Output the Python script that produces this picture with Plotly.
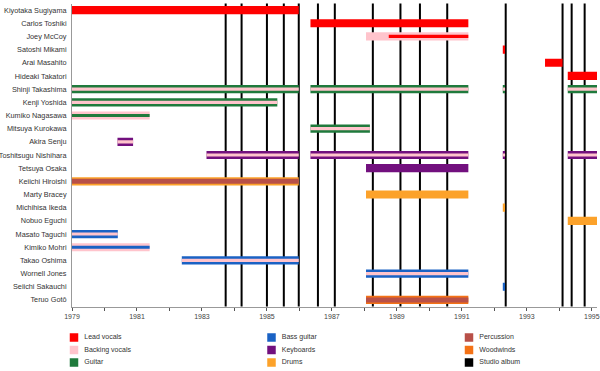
import plotly.graph_objects as go

# ---------------- data ----------------
members = ["Kiyotaka Sugiyama", "Carlos Toshiki", "Joey McCoy", "Satoshi Mikami",
           "Arai Masahito", "Hideaki Takatori", "Shinji Takashima", "Kenji Yoshida",
           "Kumiko Nagasawa", "Mitsuya Kurokawa", "Akira Senju", "Toshitsugu Nishihara",
           "Tetsuya Osaka", "Keiichi Hiroishi", "Marty Bracey", "Michihisa Ikeda",
           "Nobuo Eguchi", "Masato Taguchi", "Kimiko Mohri", "Takao Oshima",
           "Wornell Jones", "Seiichi Sakauchi", "Teruo Gotō"]

roles = ["Lead vocals", "Backing vocals", "Guitar", "Bass guitar", "Keyboards",
         "Drums", "Percussion", "Woodwinds"]

# main (full-width) periods
main_member = ["Kiyotaka Sugiyama", "Carlos Toshiki", "Joey McCoy", "Satoshi Mikami",
               "Arai Masahito", "Hideaki Takatori",
               "Shinji Takashima", "Shinji Takashima", "Shinji Takashima", "Shinji Takashima",
               "Kenji Yoshida", "Kumiko Nagasawa", "Mitsuya Kurokawa", "Akira Senju",
               "Toshitsugu Nishihara", "Toshitsugu Nishihara", "Toshitsugu Nishihara", "Toshitsugu Nishihara",
               "Tetsuya Osaka", "Keiichi Hiroishi", "Marty Bracey", "Michihisa Ikeda",
               "Nobuo Eguchi", "Masato Taguchi", "Kimiko Mohri", "Takao Oshima",
               "Wornell Jones", "Seiichi Sakauchi", "Teruo Gotō"]
main_role = ["Lead vocals", "Lead vocals", "Backing vocals", "Lead vocals",
             "Lead vocals", "Lead vocals",
             "Guitar", "Guitar", "Guitar", "Guitar",
             "Guitar", "Backing vocals", "Guitar", "Keyboards",
             "Keyboards", "Keyboards", "Keyboards", "Keyboards",
             "Keyboards", "Drums", "Drums", "Drums",
             "Drums", "Bass guitar", "Backing vocals", "Bass guitar",
             "Bass guitar", "Bass guitar", "Woodwinds"]
main_start = [1979.0, 1986.34, 1988.05, 1992.26,
              1993.56, 1994.26,
              1979.0, 1986.34, 1992.26, 1994.26,
              1979.0, 1979.0, 1986.34, 1980.40,
              1983.14, 1986.34, 1992.26, 1994.26,
              1988.05, 1979.0, 1988.05, 1992.26,
              1994.26, 1979.0, 1979.0, 1982.38,
              1988.05, 1992.26, 1988.05]
main_end = [1985.98, 1991.20, 1991.20, 1992.33,
            1994.10, 1995.16,
            1985.98, 1991.20, 1992.33, 1995.16,
            1985.32, 1981.39, 1988.17, 1980.88,
            1985.98, 1991.20, 1992.33, 1995.16,
            1991.20, 1985.98, 1991.20, 1992.33,
            1995.16, 1980.41, 1981.39, 1985.98,
            1991.20, 1992.33, 1991.20]

# secondary (narrow, overlaid) periods
sec_member = ["Joey McCoy",
              "Shinji Takashima", "Shinji Takashima", "Shinji Takashima", "Shinji Takashima",
              "Kenji Yoshida", "Kumiko Nagasawa", "Mitsuya Kurokawa", "Akira Senju",
              "Toshitsugu Nishihara", "Toshitsugu Nishihara", "Toshitsugu Nishihara", "Toshitsugu Nishihara",
              "Keiichi Hiroishi", "Masato Taguchi", "Kimiko Mohri", "Takao Oshima",
              "Wornell Jones", "Teruo Gotō"]
sec_role = ["Lead vocals",
            "Backing vocals", "Backing vocals", "Backing vocals", "Backing vocals",
            "Backing vocals", "Guitar", "Backing vocals", "Backing vocals",
            "Backing vocals", "Backing vocals", "Backing vocals", "Backing vocals",
            "Percussion", "Backing vocals", "Bass guitar", "Backing vocals",
            "Backing vocals", "Percussion"]
sec_start = [1988.75,
             1979.0, 1986.34, 1992.26, 1994.26,
             1979.0, 1979.0, 1986.34, 1980.40,
             1983.14, 1986.34, 1992.26, 1994.26,
             1979.0, 1979.0, 1979.0, 1982.38,
             1988.05, 1988.05]
sec_end = [1991.20,
           1985.98, 1991.20, 1992.33, 1995.16,
           1985.32, 1981.39, 1988.17, 1980.88,
           1985.98, 1991.20, 1992.33, 1995.16,
           1985.98, 1980.41, 1981.39, 1985.98,
           1991.20, 1991.20]

album_dates = [1983.73, 1984.22, 1985.00, 1985.52, 1985.98, 1986.57, 1987.09,
               1988.26, 1989.11, 1989.71, 1990.55, 1992.35, 1994.10, 1994.38, 1994.78]

legend_labels = roles + ["Studio album"]

# ---------------- styles ----------------
role_color = {
    "Lead vocals": "#ff0000",
    "Backing vocals": "#ffc4cc",
    "Guitar": "#1f7a3c",
    "Bass guitar": "#1a62c4",
    "Keyboards": "#72107e",
    "Drums": "#fca22a",
    "Percussion": "#b85048",
    "Woodwinds": "#f47216",
    "Studio album": "#000000",
}
MAIN_W = 0.62
SEC_W = {"Percussion": 0.38}
SEC_W_DEFAULT = 0.24
FONT = "Liberation Sans, Arial, sans-serif"
W, H = 600, 371

fig = go.Figure()

def add_bars(mem, rol, st, en, width_of):
    for r in roles:
        idx = [i for i, x in enumerate(rol) if x == r]
        if not idx:
            continue
        fig.add_trace(go.Bar(
            y=[mem[i] for i in idx],
            x=[en[i] - st[i] for i in idx],
            base=[st[i] for i in idx],
            orientation="h",
            width=width_of(r),
            marker=dict(color=role_color[r], line=dict(width=0)),
            showlegend=False, hoverinfo="skip", name=r,
        ))

add_bars(main_member, main_role, main_start, main_end, lambda r: MAIN_W)
add_bars(sec_member, sec_role, sec_start, sec_end, lambda r: SEC_W.get(r, SEC_W_DEFAULT))

for d in album_dates:
    fig.add_vline(x=d, line=dict(color="black", width=2), layer="below")

# legend drawn as a small subplot
col = [i // 3 for i in range(len(legend_labels))]
row = [i % 3 for i in range(len(legend_labels))]
fig.add_trace(go.Scatter(
    x=col, y=row, xaxis="x2", yaxis="y2", mode="markers",
    marker=dict(symbol="square", size=8.5, color=[role_color[l] for l in legend_labels],
                line=dict(width=0)),
    showlegend=False, hoverinfo="skip"))
fig.add_trace(go.Scatter(
    x=[c + 0.052 for c in col], y=row, xaxis="x2", yaxis="y2", mode="text",
    text=legend_labels, textposition="middle right",
    textfont=dict(family=FONT, size=7, color="#333333"),
    showlegend=False, hoverinfo="skip"))

fig.update_layout(
    width=W, height=H,
    margin=dict(l=0, r=0, t=0, b=0, autoexpand=False),
    paper_bgcolor="white", plot_bgcolor="white",
    barmode="overlay",
    font=dict(family=FONT, size=7, color="#333333"),
    hovermode=False,
    xaxis=dict(
        domain=[72 / W, 597 / W],
        range=[1979, 1995.16],
        tick0=1979, dtick=2,
        ticks="outside", ticklen=3, tickcolor="#555555", tickwidth=1,
        minor=dict(dtick=1, ticks="outside", ticklen=3, tickcolor="#555555"),
        showgrid=False, zeroline=False,
        showline=True, linecolor="#999999", linewidth=1,
        tickfont=dict(family=FONT, size=7, color="#444444"),
        automargin=False, fixedrange=True,
    ),
    yaxis=dict(
        domain=[1 - 306.5 / H, 1 - 3.5 / H],
        type="category",
        categoryorder="array", categoryarray=members,
        range=[len(members) - 0.5, -0.5],
        showgrid=False, zeroline=False,
        showline=True, linecolor="#999999", linewidth=1,
        ticks="", ticklabelstandoff=3,
        tickfont=dict(family=FONT, size=7.3, color="#333333"),
        automargin=False, fixedrange=True,
    ),
    xaxis2=dict(domain=[0, 1], range=[-74 / 197.5, (W - 74) / 197.5],
                visible=False, fixedrange=True, automargin=False),
    yaxis2=dict(domain=[0, 1 - 330 / H], range=[(H - 337.5) / 12.5, -7.5 / 12.5],
                visible=False, fixedrange=True, automargin=False),
)

fig.write_html("out.html",
               config={"displayModeBar": False, "staticPlot": True},
               post_script="document.body.style.margin='0px';document.body.style.overflow='hidden';")
